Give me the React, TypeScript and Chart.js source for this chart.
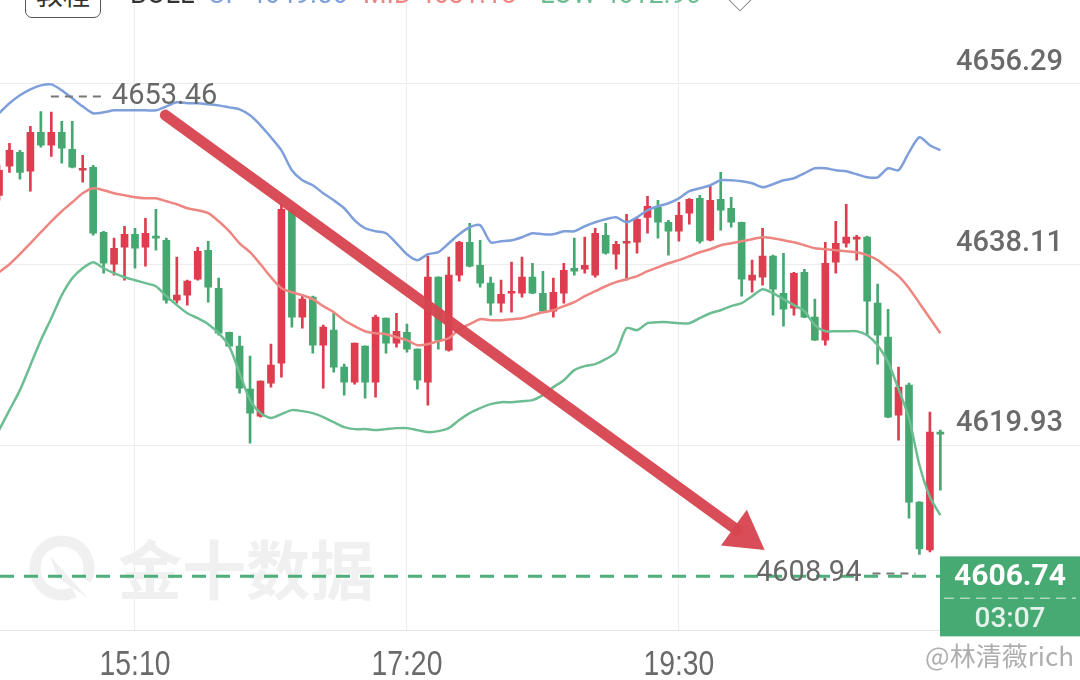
import React, { useEffect, useRef } from "react";
import { Chart, registerables } from "chart.js";

Chart.register(...registerables);

// ---------- data (5-minute candles) ----------
const times = [
  "14:05", "14:10", "14:15", "14:20", "14:25", "14:30", "14:35", "14:40", "14:45", "14:50", "14:55", "15:00", "15:05",
  "15:10", "15:15", "15:20", "15:25", "15:30", "15:35", "15:40", "15:45", "15:50", "15:55",
  "16:00", "16:05", "16:10", "16:15", "16:20", "16:25", "16:30", "16:35", "16:40", "16:45", "16:50", "16:55",
  "17:00", "17:05", "17:10", "17:15", "17:20", "17:25", "17:30", "17:35", "17:40", "17:45", "17:50", "17:55",
  "18:00", "18:05", "18:10", "18:15", "18:20", "18:25", "18:30", "18:35", "18:40", "18:45", "18:50", "18:55",
  "19:00", "19:05", "19:10", "19:15", "19:20", "19:25", "19:30", "19:35", "19:40", "19:45", "19:50", "19:55",
  "20:00", "20:05", "20:10", "20:15", "20:20", "20:25", "20:30", "20:35", "20:40", "20:45", "20:50", "20:55",
  "21:00", "21:05", "21:10", "21:15", "21:20", "21:25", "21:30", "21:35",
];

const opens = [
  4645.04, 4647.96, 4649.36, 4647.46, 4651.37, 4650.07, 4651.37, 4649.66, 4647.56, 4647.86, 4641.33, 4638.11, 4639.82,
  4641.13, 4639.82, 4640.93, 4640.52, 4634.50, 4635.00, 4636.61, 4639.52, 4635.70, 4631.28, 4629.88, 4625.56, 4622.85,
  4626.16, 4628.17, 4643.44, 4632.79, 4634.80, 4629.98, 4631.49, 4627.77, 4626.26, 4629.88, 4626.26, 4632.69, 4630.18,
  4631.28, 4629.58, 4626.26, 4636.81, 4629.48, 4637.01, 4640.32, 4638.01, 4636.21, 4634.20, 4635.20, 4635.20, 4636.81,
  4635.20, 4633.39, 4635.20, 4637.71, 4637.61, 4637.01, 4641.03, 4639.12, 4640.22, 4640.32, 4642.83, 4643.84, 4642.33,
  4641.43, 4643.24, 4644.74, 4640.52, 4644.64, 4643.74, 4642.33, 4636.51, 4636.81, 4638.92, 4635.20, 4633.69, 4637.31,
  4632.79, 4630.48, 4638.32, 4640.22, 4640.63, 4640.83, 4634.20, 4630.78, 4622.95, 4625.96, 4614.21, 4609.39, 4621.24,
];

const closes = [
  4647.56, 4649.56, 4647.35, 4651.37, 4650.07, 4651.37, 4649.77, 4647.86, 4647.76, 4641.23, 4638.21, 4639.72, 4641.13,
  4639.72, 4641.23, 4640.73, 4634.50, 4635.00, 4636.41, 4639.42, 4635.80, 4631.18, 4629.88, 4625.66, 4623.15, 4626.36,
  4627.97, 4643.64, 4632.79, 4634.60, 4629.98, 4631.79, 4627.77, 4626.26, 4630.18, 4626.26, 4632.79, 4630.18, 4631.38,
  4629.58, 4626.46, 4636.81, 4630.48, 4637.01, 4640.32, 4637.91, 4636.21, 4634.20, 4635.10, 4635.30, 4636.81, 4635.20,
  4633.39, 4635.30, 4637.51, 4637.41, 4638.01, 4641.23, 4639.22, 4640.12, 4640.32, 4642.63, 4643.94, 4642.33, 4641.43,
  4643.04, 4644.64, 4640.42, 4644.54, 4643.54, 4642.33, 4636.61, 4637.01, 4638.92, 4635.60, 4633.59, 4637.21, 4632.79,
  4630.48, 4638.21, 4640.22, 4640.83, 4640.83, 4634.40, 4630.98, 4622.75, 4625.76, 4614.21, 4609.49, 4621.24, 4621.04,
];

const highs = [
  4648.06, 4650.27, 4649.56, 4651.98, 4653.46, 4653.40, 4652.48, 4652.48, 4649.06, 4648.06, 4641.43, 4640.73, 4641.93,
  4641.73, 4642.73, 4643.64, 4640.73, 4638.82, 4636.51, 4639.82, 4640.42, 4636.71, 4631.30, 4630.88, 4628.87, 4626.40,
  4630.08, 4644.14, 4643.64, 4635.00, 4634.90, 4631.99, 4633.19, 4628.07, 4630.20, 4629.90, 4632.99, 4632.70, 4633.19,
  4632.09, 4629.60, 4638.92, 4636.85, 4638.82, 4640.42, 4642.23, 4640.52, 4636.81, 4636.51, 4638.32, 4638.82, 4638.21,
  4637.41, 4636.71, 4638.21, 4640.73, 4640.83, 4641.73, 4642.23, 4640.42, 4643.14, 4642.73, 4644.94, 4644.54, 4642.53,
  4644.34, 4644.70, 4645.04, 4645.95, 4647.35, 4644.84, 4642.35, 4638.52, 4641.73, 4639.02, 4639.22, 4637.31, 4637.61,
  4634.60, 4640.32, 4642.43, 4644.14, 4641.03, 4640.93, 4636.11, 4633.59, 4627.77, 4626.16, 4614.25, 4623.25, 4621.44,
];

const lows = [
  4644.54, 4647.35, 4646.65, 4645.45, 4649.87, 4648.96, 4648.26, 4647.80, 4646.35, 4641.03, 4637.21, 4637.01, 4636.51,
  4637.71, 4637.91, 4639.52, 4634.20, 4634.20, 4634.00, 4636.51, 4634.30, 4630.98, 4629.78, 4625.16, 4620.14, 4622.75,
  4625.76, 4626.76, 4631.79, 4631.69, 4629.18, 4625.66, 4627.27, 4624.96, 4626.06, 4624.66, 4624.76, 4629.18, 4629.78,
  4629.28, 4625.56, 4623.95, 4629.58, 4629.38, 4636.41, 4637.85, 4635.80, 4632.99, 4633.29, 4633.29, 4634.80, 4635.15,
  4633.29, 4632.79, 4634.20, 4637.01, 4637.21, 4636.81, 4639.12, 4637.61, 4636.51, 4639.22, 4641.23, 4640.73, 4639.02,
  4640.42, 4642.13, 4640.22, 4640.45, 4641.53, 4641.83, 4634.90, 4635.30, 4636.00, 4632.99, 4631.89, 4632.99, 4632.75,
  4630.45, 4629.98, 4637.21, 4639.82, 4638.52, 4630.98, 4628.07, 4622.70, 4620.44, 4612.60, 4608.94, 4609.19, 4615.41,
];

const bollUp = [
  4653.28, 4654.29, 4655.09, 4655.69, 4656.09, 4656.19, 4655.59, 4654.79, 4653.98, 4653.28, 4653.38, 4653.58, 4653.58,
  4653.58, 4653.58, 4653.58, 4653.98, 4654.39, 4654.29, 4654.29, 4654.19, 4654.08, 4653.88, 4653.68, 4653.08, 4652.08,
  4650.87, 4649.56, 4647.56, 4646.55, 4646.05, 4645.25, 4644.54, 4643.74, 4642.53, 4641.73, 4641.43, 4641.23, 4640.22,
  4639.12, 4638.52, 4639.12, 4639.32, 4640.22, 4641.13, 4641.83, 4642.03, 4640.32, 4640.42, 4640.52, 4640.83, 4641.23,
  4641.13, 4641.13, 4641.43, 4641.43, 4641.93, 4642.33, 4642.63, 4642.83, 4642.33, 4642.83, 4643.54, 4643.94, 4644.24,
  4644.74, 4645.45, 4645.75, 4646.05, 4646.55, 4646.55, 4646.45, 4646.25, 4645.85, 4646.15, 4646.55, 4646.75, 4647.25,
  4647.76, 4647.76, 4647.56, 4647.46, 4647.15, 4646.85, 4646.85, 4647.76, 4647.56, 4649.36, 4650.87, 4650.07, 4649.56,
];

const bollMid = [
  4637.31, 4638.11, 4639.12, 4640.22, 4641.33, 4642.43, 4643.44, 4644.34, 4645.25, 4645.75, 4645.55, 4645.25, 4645.04,
  4644.84, 4644.74, 4644.74, 4644.44, 4644.14, 4643.74, 4643.54, 4643.24, 4642.43, 4641.43, 4640.22, 4639.32, 4638.11,
  4636.81, 4635.70, 4635.30, 4635.00, 4634.60, 4633.90, 4633.29, 4632.49, 4631.89, 4631.38, 4631.18, 4631.08, 4630.78,
  4630.48, 4629.98, 4630.08, 4630.38, 4630.68, 4631.59, 4632.09, 4632.59, 4632.49, 4632.49, 4632.59, 4632.69, 4632.99,
  4633.29, 4633.49, 4633.90, 4634.30, 4634.90, 4635.40, 4635.90, 4636.31, 4636.61, 4636.91, 4637.41, 4637.81, 4638.21,
  4638.52, 4638.92, 4639.32, 4639.62, 4640.02, 4640.22, 4640.42, 4640.63, 4640.83, 4640.73, 4640.52, 4640.32, 4640.02,
  4639.72, 4639.62, 4639.52, 4639.42, 4639.32, 4639.02, 4638.52, 4637.71, 4636.91, 4635.70, 4634.20, 4632.69, 4631.18,
];

const bollLow = [
  4621.44, 4623.45, 4625.46, 4627.97, 4630.48, 4632.69, 4635.00, 4636.71, 4637.71, 4638.32, 4637.71, 4637.21, 4636.81,
  4636.51, 4636.21, 4635.90, 4634.90, 4634.00, 4633.19, 4632.69, 4632.09, 4631.18, 4629.88, 4627.17, 4624.45, 4623.15,
  4622.65, 4623.05, 4623.45, 4623.35, 4623.15, 4622.75, 4622.24, 4621.74, 4621.54, 4621.54, 4621.44, 4621.54, 4621.64,
  4621.64, 4621.44, 4621.24, 4621.34, 4621.64, 4622.45, 4623.15, 4623.65, 4624.05, 4624.25, 4624.25, 4624.35, 4624.45,
  4624.96, 4625.76, 4626.46, 4627.47, 4627.87, 4628.07, 4628.57, 4629.28, 4631.69, 4631.49, 4632.19, 4632.29, 4632.29,
  4632.19, 4632.19, 4632.69, 4633.19, 4633.49, 4633.90, 4634.20, 4634.90, 4635.60, 4635.20, 4634.60, 4634.00, 4633.39,
  4631.99, 4631.38, 4631.38, 4631.38, 4631.38, 4630.98, 4629.98, 4628.27, 4625.56, 4622.65, 4617.93, 4614.71, 4612.90,
];

const yTickValues = [4619.93, 4638.11, 4656.29];
const xTickLabels = ["15:10", "17:20", "19:30"];
const lastPrice = 4606.74;
const countdown = "03:07";
// hand-drawn trend arrow (x in candle index units, y in price)
const arrowStart = { x: 15.9, y: 4653.1 };
const arrowEnd = { x: 73.2, y: 4609.4 };
// visible window
const xMin = 0.094;
const xMax = 103.35;
const yMin = 4601.35;
const yMax = 4664.63;

// ---------- styles ----------
const RED = "#dd3d4e";
const GREEN = "#45a870";
const UP_C = "#7f9fdb";
const MID_C = "#ee8580";
const LOW_C = "#6dbd92";
const AXIS_TEXT = "#6a6a6a";
const GRID = "#ececec";
const BOX = "#47aa73";
const ARROW = "rgba(214,70,80,0.96)";

const isUp = (i: number) => closes[i] >= opens[i];

const overlayPlugin = {
  id: "overlay",
  beforeDatasetsDraw(chart: any) {
    const { ctx, chartArea } = chart;
    ctx.save();
    const cy = chartArea.bottom - 62;
    // watermark logo
    ctx.strokeStyle = "#f0f0f0";
    ctx.lineWidth = 11;
    ctx.beginPath();
    ctx.arc(62, cy, 27, 0.35 * Math.PI, 2.15 * Math.PI);
    ctx.stroke();
    ctx.fillStyle = "#f0f0f0";
    ctx.beginPath();
    ctx.moveTo(50, cy - 12);
    ctx.lineTo(88, cy + 30);
    ctx.lineTo(58, cy + 10);
    ctx.closePath();
    ctx.fill();
    // watermark text
    ctx.font = 'bold 64px "Noto Sans CJK SC"';
    ctx.textAlign = "left";
    ctx.textBaseline = "middle";
    ctx.fillStyle = "#f0f0f0";
    ctx.fillText("金十数据", 118, cy + 2);
    ctx.restore();
  },
  afterDraw(chart: any) {
    const { ctx, chartArea } = chart;
    const xs = chart.scales.x;
    const ys = chart.scales.y;
    ctx.save();

    // x tick labels (narrow face emulated by horizontal compression)
    ctx.fillStyle = AXIS_TEXT;
    ctx.font = "35px 'Liberation Sans'";
    ctx.textAlign = "center";
    ctx.textBaseline = "middle";
    for (const t of xs.ticks) {
      const px = xs.getPixelForValue(t.value);
      ctx.save();
      ctx.translate(px, chartArea.bottom + 35);
      ctx.scale(0.81, 1);
      ctx.fillText(times[Math.round(t.value)], 0, 0);
      ctx.restore();
    }

    // current price dashed line + box
    const py = ys.getPixelForValue(lastPrice);
    const boxW = 140;
    const boxLeft = chartArea.right - boxW;
    ctx.setLineDash([14, 10]);
    ctx.strokeStyle = "#4caf7a";
    ctx.lineWidth = 3;
    ctx.beginPath();
    ctx.moveTo(chartArea.left, py);
    ctx.lineTo(boxLeft, py);
    ctx.stroke();
    ctx.setLineDash([]);
    ctx.fillStyle = BOX;
    ctx.fillRect(boxLeft, py - 20, boxW, 80);
    ctx.strokeStyle = "rgba(255,255,255,0.55)";
    ctx.lineWidth = 1.5;
    ctx.setLineDash([10, 6]);
    ctx.beginPath();
    ctx.moveTo(boxLeft + 4, py + 22);
    ctx.lineTo(boxLeft + boxW - 4, py + 22);
    ctx.stroke();
    ctx.setLineDash([]);
    ctx.fillStyle = "#ffffff";
    ctx.textAlign = "center";
    ctx.textBaseline = "middle";
    ctx.font = "bold 30px Roboto";
    ctx.fillText(lastPrice.toFixed(2), boxLeft + boxW / 2, py + 1);
    ctx.fillStyle = "rgba(255,255,255,0.85)";
    ctx.font = "500 28px Roboto";
    ctx.fillText(countdown, boxLeft + boxW / 2, py + 44);

    // high / low markers
    let hi = 0;
    let lo = 0;
    for (let i = 0; i < highs.length; i++) {
      if (highs[i] > highs[hi]) hi = i;
      if (lows[i] < lows[lo]) lo = i;
    }
    ctx.strokeStyle = "#777";
    ctx.lineWidth = 2;
    ctx.fillStyle = "#686868";
    ctx.font = "29px Roboto";
    ctx.textBaseline = "middle";
    const hx = xs.getPixelForValue(hi);
    const hy = ys.getPixelForValue(highs[hi]) - 15;
    ctx.setLineDash([8, 6]);
    ctx.beginPath();
    ctx.moveTo(hx + 10, hy);
    ctx.lineTo(hx + 64, hy);
    ctx.stroke();
    ctx.setLineDash([]);
    ctx.textAlign = "left";
    ctx.fillText(highs[hi].toFixed(2), hx + 71, hy);
    const lx = xs.getPixelForValue(lo);
    const ly = ys.getPixelForValue(lows[lo]) + 19;
    ctx.setLineDash([8, 6]);
    ctx.beginPath();
    ctx.moveTo(lx - 47, ly);
    ctx.lineTo(lx - 4, ly);
    ctx.stroke();
    ctx.setLineDash([]);
    ctx.textAlign = "right";
    ctx.fillText(lows[lo].toFixed(2), lx - 58, ly);

    // trend arrow
    const sx = xs.getPixelForValue(arrowStart.x);
    const sy = ys.getPixelForValue(arrowStart.y);
    const ex = xs.getPixelForValue(arrowEnd.x);
    const ey = ys.getPixelForValue(arrowEnd.y);
    const len = Math.hypot(ex - sx, ey - sy);
    const ux = (ex - sx) / len;
    const uy = (ey - sy) / len;
    const L = 38;
    const W = 22;
    const bx = ex - ux * L;
    const by = ey - uy * L;
    ctx.strokeStyle = ARROW;
    ctx.fillStyle = ARROW;
    ctx.lineWidth = 11;
    ctx.lineCap = "round";
    ctx.beginPath();
    ctx.moveTo(sx, sy);
    ctx.lineTo(bx + ux * 4, by + uy * 4);
    ctx.stroke();
    ctx.beginPath();
    ctx.moveTo(ex, ey);
    ctx.lineTo(bx - uy * W, by + ux * W);
    ctx.lineTo(bx + uy * W, by - ux * W);
    ctx.closePath();
    ctx.fill();

    // weibo watermark
    ctx.font = '26px "Noto Sans CJK SC"';
    ctx.textAlign = "right";
    ctx.textBaseline = "middle";
    ctx.lineWidth = 3;
    ctx.lineCap = "butt";
    ctx.strokeStyle = "rgba(255,255,255,0.9)";
    ctx.strokeText("@林清薇rich", 1074, 656);
    ctx.fillStyle = "rgba(160,160,160,0.85)";
    ctx.fillText("@林清薇rich", 1074, 656);
    ctx.restore();
  },
};

export default function App() {
  const ref = useRef<HTMLCanvasElement | null>(null);

  useEffect(() => {
    if (!ref.current) return;
    const idx = times.map((_, i) => i);
    const xTickIdx = xTickLabels.map((l) => times.indexOf(l));
    const chart = new Chart(ref.current, {
      type: "bar",
      data: {
        datasets: [
          {
            type: "line",
            label: "UP",
            data: idx.map((i) => ({ x: i, y: bollUp[i] })),
            borderColor: UP_C,
            borderWidth: 2.5,
            pointRadius: 0,
            tension: 0.25,
            order: 0,
          } as any,
          {
            type: "line",
            label: "MID",
            data: idx.map((i) => ({ x: i, y: bollMid[i] })),
            borderColor: MID_C,
            borderWidth: 2.5,
            pointRadius: 0,
            tension: 0.25,
            order: 0,
          } as any,
          {
            type: "line",
            label: "LOW",
            data: idx.map((i) => ({ x: i, y: bollLow[i] })),
            borderColor: LOW_C,
            borderWidth: 2.5,
            pointRadius: 0,
            tension: 0.25,
            order: 0,
          } as any,
          {
            type: "bar",
            label: "body",
            data: idx.map((i) => ({ x: i, y: [opens[i], closes[i]] })),
            backgroundColor: (c: any) => (isUp(c.dataIndex) ? RED : GREEN),
            barThickness: 7,
            maxBarThickness: 7,
            minBarLength: 2,
            grouped: false,
            borderWidth: 0,
            order: 1,
          } as any,
          {
            type: "bar",
            label: "wick",
            data: idx.map((i) => ({ x: i, y: [lows[i], highs[i]] })),
            backgroundColor: (c: any) => (isUp(c.dataIndex) ? RED : GREEN),
            barThickness: 2,
            maxBarThickness: 2,
            grouped: false,
            borderWidth: 0,
            order: 2,
          } as any,
        ],
      },
      options: {
        animation: false,
        responsive: true,
        maintainAspectRatio: false,
        layout: { padding: 0 },
        plugins: {
          legend: { display: false },
          tooltip: { enabled: false },
        },
        scales: {
          x: {
            type: "linear",
            min: xMin,
            max: xMax,
            offset: false,
            afterBuildTicks: (s: any) => {
              s.ticks = xTickIdx.map((v) => ({ value: v }));
            },
            afterFit: (s: any) => {
              s.height = 50;
            },
            ticks: {
              display: false,
              autoSkip: false,
              maxRotation: 0,
              callback: (v: any) => times[Math.round(Number(v))],
            },
            grid: { color: GRID, drawTicks: false, offset: false },
            border: { color: "#e4e4e4" },
          },
          y: {
            type: "linear",
            position: "right",
            min: yMin,
            max: yMax,
            afterBuildTicks: (s: any) => {
              s.ticks = yTickValues.map((v) => ({ value: v }));
            },
            afterFit: (s: any) => {
              s.width = 0;
            },
            ticks: {
              mirror: true,
              padding: -17,
              labelOffset: -21,
              color: AXIS_TEXT,
              font: { family: "Roboto", size: 29, weight: "500" },
              callback: (v: any) => Number(v).toFixed(2),
            },
            grid: { color: GRID, drawTicks: false },
            border: { display: false },
          },
        },
      } as any,
      plugins: [overlayPlugin],
    });
    return () => chart.destroy();
  }, []);

  const last = times.length - 1;
  const hdr: React.CSSProperties = {
    position: "absolute",
    top: -19,
    fontFamily: "Roboto",
    fontSize: 27,
    lineHeight: "27px",
    whiteSpace: "nowrap",
  };

  return (
    <div
      style={{
        position: "fixed",
        left: 0,
        top: 0,
        width: 1080,
        height: 680,
        overflow: "hidden",
        background: "#ffffff",
      }}
    >
      <canvas ref={ref} style={{ position: "absolute", left: 0, top: 0 }} />
      <div
        style={{
          position: "absolute",
          left: 25,
          top: -30,
          width: 76,
          height: 48,
          boxSizing: "border-box",
          border: "1.5px solid #555",
          borderRadius: 7,
          fontFamily: '"Noto Sans CJK SC"',
          fontSize: 27,
          lineHeight: "45px",
          textAlign: "center",
          color: "#333",
          background: "#fff",
        }}
      >
        教程
      </div>
      <div style={{ ...hdr, left: 130, color: "#333" }}>BOLL</div>
      <div style={{ ...hdr, left: 208, color: UP_C }}>UP {bollUp[last].toFixed(2)}</div>
      <div style={{ ...hdr, left: 363, color: MID_C }}>MID {bollMid[last].toFixed(2)}</div>
      <div style={{ ...hdr, left: 540, color: LOW_C }}>LOW {bollLow[last].toFixed(2)}</div>
      <div
        style={{
          position: "absolute",
          left: 729,
          top: -15,
          width: 20,
          height: 20,
          border: "1.5px solid #888",
          transform: "rotate(45deg)",
          background: "#fff",
        }}
      />
    </div>
  );
}
